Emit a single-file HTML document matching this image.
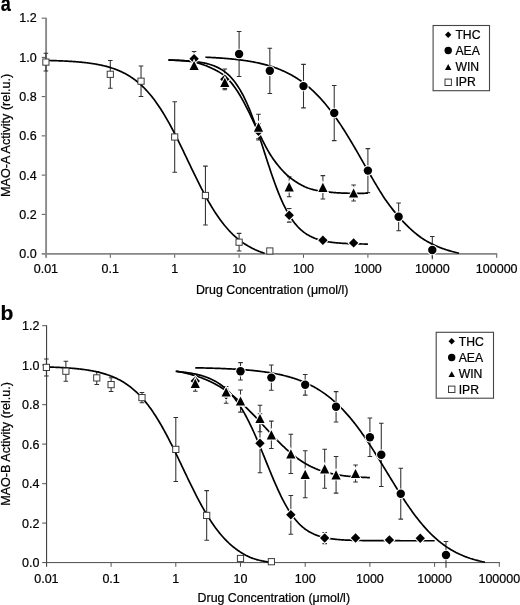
<!DOCTYPE html><html><head><meta charset="utf-8"><title>MAO activity</title>
<style>html,body{margin:0;padding:0;background:#fff}svg{display:block}text{font-family:"Liberation Sans",Arial,sans-serif;fill:#000;stroke:#000;stroke-width:0.22px}</style></head><body>
<svg width="520" height="605" viewBox="0 0 520 605">
<rect width="520" height="605" fill="#fff"/>
<g>
<line x1="41.70" y1="214.36" x2="46.10" y2="214.36" stroke="#444" stroke-width="0.9"/>
<line x1="41.70" y1="175.12" x2="46.10" y2="175.12" stroke="#444" stroke-width="0.9"/>
<line x1="41.70" y1="135.88" x2="46.10" y2="135.88" stroke="#444" stroke-width="0.9"/>
<line x1="41.70" y1="96.64" x2="46.10" y2="96.64" stroke="#444" stroke-width="0.9"/>
<line x1="41.70" y1="57.40" x2="46.10" y2="57.40" stroke="#444" stroke-width="0.9"/>
<line x1="41.70" y1="18.16" x2="46.10" y2="18.16" stroke="#444" stroke-width="0.9"/>
<line x1="110.30" y1="253.85" x2="110.30" y2="257.80" stroke="#444" stroke-width="0.9"/>
<line x1="174.70" y1="253.85" x2="174.70" y2="257.80" stroke="#444" stroke-width="0.9"/>
<line x1="239.10" y1="253.85" x2="239.10" y2="257.80" stroke="#444" stroke-width="0.9"/>
<line x1="303.50" y1="253.85" x2="303.50" y2="257.80" stroke="#444" stroke-width="0.9"/>
<line x1="367.90" y1="253.85" x2="367.90" y2="257.80" stroke="#444" stroke-width="0.9"/>
<line x1="432.30" y1="253.85" x2="432.30" y2="257.80" stroke="#444" stroke-width="0.9"/>
<line x1="496.70" y1="253.85" x2="496.70" y2="257.80" stroke="#444" stroke-width="0.9"/>
<line x1="46.10" y1="17.86" x2="46.10" y2="257.80" stroke="#8a8a8a" stroke-width="1.9"/>
<line x1="41.70" y1="253.85" x2="497.20" y2="253.85" stroke="#868686" stroke-width="1.7"/>
<text x="36.70" y="258.05" font-size="12.5" text-anchor="end">0.0</text>
<text x="36.70" y="218.81" font-size="12.5" text-anchor="end">0.2</text>
<text x="36.70" y="179.57" font-size="12.5" text-anchor="end">0.4</text>
<text x="36.70" y="140.33" font-size="12.5" text-anchor="end">0.6</text>
<text x="36.70" y="101.09" font-size="12.5" text-anchor="end">0.8</text>
<text x="36.70" y="61.85" font-size="12.5" text-anchor="end">1.0</text>
<text x="36.70" y="21.91" font-size="12.5" text-anchor="end">1.2</text>
<text x="45.90" y="273.10" font-size="12.5" text-anchor="middle">0.01</text>
<text x="110.30" y="273.10" font-size="12.5" text-anchor="middle">0.1</text>
<text x="174.70" y="273.10" font-size="12.5" text-anchor="middle">1</text>
<text x="239.10" y="273.10" font-size="12.5" text-anchor="middle">10</text>
<text x="303.50" y="273.10" font-size="12.5" text-anchor="middle">100</text>
<text x="367.90" y="273.10" font-size="12.5" text-anchor="middle">1000</text>
<text x="432.30" y="273.10" font-size="12.5" text-anchor="middle">10000</text>
<text x="496.70" y="273.10" font-size="12.5" text-anchor="middle">100000</text>
<text x="272.15" y="294.10" font-size="12.4" text-anchor="middle">Drug Concentration (μmol/l)</text>
<text transform="translate(9.90,135.30) rotate(-90)" font-size="12.6" text-anchor="middle">MAO-A Activity (rel.u.)</text>
<text transform="translate(0.7,11.0) scale(0.82,1)" font-size="22" font-weight="bold">a</text>
<path d="M194.09,51.50V65.90M191.79,51.50h4.6M191.79,65.90h4.6" stroke="#303030" stroke-width="1.05" fill="none"/>
<path d="M224.81,68.90V89.70M222.51,68.90h4.6M222.51,89.70h4.6" stroke="#303030" stroke-width="1.05" fill="none"/>
<path d="M258.49,123.70V138.70M256.19,123.70h4.6M256.19,138.70h4.6" stroke="#303030" stroke-width="1.05" fill="none"/>
<path d="M289.21,208.50V222.10M286.91,208.50h4.6M286.91,222.10h4.6" stroke="#303030" stroke-width="1.05" fill="none"/>
<path d="M239.10,31.50V76.50M236.80,31.50h4.6M236.80,76.50h4.6" stroke="#303030" stroke-width="1.05" fill="none"/>
<path d="M269.83,48.20V93.40M267.53,48.20h4.6M267.53,93.40h4.6" stroke="#303030" stroke-width="1.05" fill="none"/>
<path d="M303.50,64.35V107.85M301.20,64.35h4.6M301.20,107.85h4.6" stroke="#303030" stroke-width="1.05" fill="none"/>
<path d="M334.23,85.40V140.60M331.93,85.40h4.6M331.93,140.60h4.6" stroke="#303030" stroke-width="1.05" fill="none"/>
<path d="M367.90,148.60V192.60M365.60,148.60h4.6M365.60,192.60h4.6" stroke="#303030" stroke-width="1.05" fill="none"/>
<path d="M398.63,202.90V230.70M396.33,202.90h4.6M396.33,230.70h4.6" stroke="#303030" stroke-width="1.05" fill="none"/>
<path d="M432.30,236.40V259.30M430.00,236.40h4.6" stroke="#303030" stroke-width="1.05" fill="none"/>
<path d="M194.09,60.50V70.50M191.79,60.50h4.6M191.79,70.50h4.6" stroke="#303030" stroke-width="1.05" fill="none"/>
<path d="M224.81,76.40V88.40M222.51,76.40h4.6M222.51,88.40h4.6" stroke="#303030" stroke-width="1.05" fill="none"/>
<path d="M258.49,114.30V139.90M256.19,114.30h4.6M256.19,139.90h4.6" stroke="#303030" stroke-width="1.05" fill="none"/>
<path d="M289.21,176.80V196.80M286.91,176.80h4.6M286.91,196.80h4.6" stroke="#303030" stroke-width="1.05" fill="none"/>
<path d="M322.89,175.60V199.00M320.59,175.60h4.6M320.59,199.00h4.6" stroke="#303030" stroke-width="1.05" fill="none"/>
<path d="M353.61,185.00V201.00M351.31,185.00h4.6M351.31,201.00h4.6" stroke="#303030" stroke-width="1.05" fill="none"/>
<path d="M45.90,53.30V70.90M43.60,53.30h4.6M43.60,70.90h4.6" stroke="#303030" stroke-width="1.05" fill="none"/>
<path d="M110.30,60.40V88.20M108.00,60.40h4.6M108.00,88.20h4.6" stroke="#303030" stroke-width="1.05" fill="none"/>
<path d="M141.03,66.00V96.40M138.73,66.00h4.6M138.73,96.40h4.6" stroke="#303030" stroke-width="1.05" fill="none"/>
<path d="M174.70,101.80V172.20M172.40,101.80h4.6M172.40,172.20h4.6" stroke="#303030" stroke-width="1.05" fill="none"/>
<path d="M205.43,166.10V224.90M203.13,166.10h4.6M203.13,224.90h4.6" stroke="#303030" stroke-width="1.05" fill="none"/>
<path d="M239.10,233.35V251.05M236.80,233.35h4.6M236.80,251.05h4.6" stroke="#303030" stroke-width="1.05" fill="none"/>
<path d="M168.46,60.14 L169.23,60.15 L170.00,60.17 L170.77,60.19 L171.54,60.21 L172.31,60.22 L173.08,60.24 L173.85,60.26 L174.62,60.29 L175.39,60.31 L176.16,60.33 L176.93,60.36 L177.70,60.39 L178.47,60.41 L179.24,60.44 L180.01,60.48 L180.78,60.51 L181.55,60.54 L182.32,60.58 L183.09,60.62 L183.86,60.66 L184.63,60.70 L185.40,60.75 L186.17,60.80 L186.94,60.85 L187.71,60.90 L188.48,60.95 L189.25,61.01 L190.02,61.07 L190.79,61.14 L191.56,61.21 L192.33,61.28 L193.10,61.35 L193.87,61.43 L194.64,61.52 L195.41,61.60 L196.18,61.70 L196.95,61.79 L197.72,61.89 L198.49,62.00 L199.26,62.12 L200.03,62.23 L200.80,62.36 L201.57,62.49 L202.34,62.63 L203.11,62.77 L203.88,62.93 L204.65,63.09 L205.42,63.26 L206.19,63.44 L206.96,63.62 L207.73,63.82 L208.50,64.03 L209.27,64.24 L210.04,64.47 L210.81,64.71 L211.58,64.96 L212.35,65.23 L213.12,65.50 L213.89,65.80 L214.66,66.10 L215.43,66.42 L216.20,66.76 L216.97,67.11 L217.74,67.48 L218.51,67.87 L219.28,68.28 L220.05,68.71 L220.82,69.15 L221.59,69.62 L222.36,70.12 L223.13,70.63 L223.90,71.17 L224.67,71.73 L225.44,72.32 L226.21,72.94 L226.98,73.59 L227.75,74.26 L228.52,74.96 L229.29,75.70 L230.06,76.47 L230.83,77.27 L231.60,78.11 L232.37,78.98 L233.14,79.89 L233.91,80.83 L234.68,81.82 L235.45,82.84 L236.22,83.90 L236.99,85.01 L237.76,86.16 L238.53,87.35 L239.30,88.59 L240.07,89.87 L240.84,91.20 L241.61,92.57 L242.38,93.99 L243.15,95.46 L243.92,96.97 L244.69,98.54 L245.46,100.15 L246.23,101.80 L247.00,103.51 L247.77,105.26 L248.54,107.06 L249.31,108.91 L250.08,110.80 L250.85,112.73 L251.62,114.71 L252.39,116.73 L253.16,118.80 L253.93,120.90 L254.70,123.03 L255.47,125.21 L256.24,127.41 L257.01,129.65 L257.78,131.91 L258.55,134.20 L259.32,136.52 L260.09,138.85 L260.86,141.20 L261.63,143.57 L262.40,145.95 L263.17,148.33 L263.94,150.72 L264.71,153.12 L265.48,155.51 L266.25,157.89 L267.02,160.27 L267.79,162.64 L268.56,164.99 L269.33,167.33 L270.10,169.64 L270.87,171.94 L271.64,174.20 L272.41,176.44 L273.18,178.65 L273.95,180.83 L274.72,182.97 L275.49,185.08 L276.26,187.14 L277.03,189.17 L277.81,191.15 L278.58,193.09 L279.35,194.99 L280.12,196.84 L280.89,198.64 L281.66,200.40 L282.43,202.11 L283.20,203.77 L283.97,205.39 L284.74,206.96 L285.51,208.48 L286.28,209.95 L287.05,211.37 L287.82,212.75 L288.59,214.08 L289.36,215.37 L290.13,216.61 L290.90,217.81 L291.67,218.96 L292.44,220.07 L293.21,221.14 L293.98,222.17 L294.75,223.16 L295.52,224.11 L296.29,225.02 L297.06,225.90 L297.83,226.74 L298.60,227.54 L299.37,228.31 L300.14,229.05 L300.91,229.76 L301.68,230.44 L302.45,231.09 L303.22,231.71 L303.99,232.30 L304.76,232.87 L305.53,233.41 L306.30,233.92 L307.07,234.42 L307.84,234.89 L308.61,235.34 L309.38,235.77 L310.15,236.18 L310.92,236.57 L311.69,236.94 L312.46,237.30 L313.23,237.64 L314.00,237.96 L314.77,238.27 L315.54,238.56 L316.31,238.84 L317.08,239.10 L317.85,239.36 L318.62,239.60 L319.39,239.83 L320.16,240.05 L320.93,240.25 L321.70,240.45 L322.47,240.64 L323.24,240.82 L324.01,240.99 L324.78,241.15 L325.55,241.30 L326.32,241.45 L327.09,241.59 L327.86,241.72 L328.63,241.85 L329.40,241.97 L330.17,242.08 L330.94,242.19 L331.71,242.29 L332.48,242.39 L333.25,242.48 L334.02,242.57 L334.79,242.65 L335.56,242.73 L336.33,242.81 L337.10,242.88 L337.87,242.95 L338.64,243.01 L339.41,243.08 L340.18,243.13 L340.95,243.19 L341.72,243.24 L342.49,243.29 L343.26,243.34 L344.03,243.39 L344.80,243.43 L345.57,243.47 L346.34,243.51 L347.11,243.55 L347.88,243.58 L348.65,243.61 L349.42,243.65 L350.19,243.68 L350.96,243.70 L351.73,243.73 L352.50,243.76 L353.27,243.78 L354.04,243.80 L354.81,243.83 L355.58,243.85 L356.35,243.87 L357.12,243.89 L357.89,243.90 L358.66,243.92 L359.43,243.94 L360.20,243.95 L360.97,243.97 L361.74,243.98 L362.51,243.99 L363.28,244.01 L364.05,244.02 L364.82,244.03 L365.59,244.04 L366.36,244.05 L367.13,244.06 L367.90,244.07" fill="none" stroke="#000" stroke-width="1.7" stroke-linejoin="round"/>
<path d="M205.43,57.21 L206.42,57.26 L207.42,57.30 L208.41,57.35 L209.40,57.40 L210.40,57.45 L211.39,57.50 L212.39,57.55 L213.38,57.61 L214.38,57.66 L215.37,57.72 L216.37,57.78 L217.36,57.85 L218.36,57.91 L219.35,57.97 L220.35,58.04 L221.34,58.11 L222.33,58.18 L223.33,58.26 L224.32,58.34 L225.32,58.41 L226.31,58.50 L227.31,58.58 L228.30,58.67 L229.30,58.76 L230.29,58.85 L231.29,58.94 L232.28,59.04 L233.28,59.14 L234.27,59.25 L235.26,59.35 L236.26,59.46 L237.25,59.58 L238.25,59.69 L239.24,59.82 L240.24,59.94 L241.23,60.07 L242.23,60.20 L243.22,60.34 L244.22,60.48 L245.21,60.62 L246.20,60.77 L247.20,60.93 L248.19,61.08 L249.19,61.25 L250.18,61.41 L251.18,61.59 L252.17,61.77 L253.17,61.95 L254.16,62.14 L255.16,62.33 L256.15,62.53 L257.15,62.74 L258.14,62.95 L259.13,63.17 L260.13,63.40 L261.12,63.63 L262.12,63.87 L263.11,64.12 L264.11,64.37 L265.10,64.63 L266.10,64.90 L267.09,65.18 L268.09,65.46 L269.08,65.75 L270.08,66.06 L271.07,66.36 L272.06,66.68 L273.06,67.01 L274.05,67.35 L275.05,67.70 L276.04,68.05 L277.04,68.42 L278.03,68.80 L279.03,69.19 L280.02,69.58 L281.02,70.00 L282.01,70.42 L283.00,70.85 L284.00,71.29 L284.99,71.75 L285.99,72.22 L286.98,72.70 L287.98,73.20 L288.97,73.71 L289.97,74.23 L290.96,74.77 L291.96,75.32 L292.95,75.89 L293.95,76.47 L294.94,77.06 L295.93,77.67 L296.93,78.30 L297.92,78.94 L298.92,79.60 L299.91,80.27 L300.91,80.97 L301.90,81.68 L302.90,82.40 L303.89,83.15 L304.89,83.91 L305.88,84.69 L306.88,85.49 L307.87,86.31 L308.86,87.15 L309.86,88.00 L310.85,88.88 L311.85,89.78 L312.84,90.69 L313.84,91.63 L314.83,92.58 L315.83,93.56 L316.82,94.56 L317.82,95.58 L318.81,96.62 L319.80,97.68 L320.80,98.76 L321.79,99.87 L322.79,100.99 L323.78,102.14 L324.78,103.31 L325.77,104.50 L326.77,105.71 L327.76,106.94 L328.76,108.20 L329.75,109.48 L330.75,110.77 L331.74,112.09 L332.73,113.43 L333.73,114.79 L334.72,116.17 L335.72,117.58 L336.71,119.00 L337.71,120.44 L338.70,121.90 L339.70,123.38 L340.69,124.88 L341.69,126.40 L342.68,127.93 L343.68,129.48 L344.67,131.05 L345.66,132.64 L346.66,134.24 L347.65,135.85 L348.65,137.48 L349.64,139.12 L350.64,140.78 L351.63,142.44 L352.63,144.12 L353.62,145.81 L354.62,147.51 L355.61,149.22 L356.60,150.94 L357.60,152.66 L358.59,154.39 L359.59,156.12 L360.58,157.86 L361.58,159.60 L362.57,161.34 L363.57,163.09 L364.56,164.83 L365.56,166.57 L366.55,168.32 L367.55,170.06 L368.54,171.79 L369.53,173.52 L370.53,175.25 L371.52,176.96 L372.52,178.67 L373.51,180.37 L374.51,182.07 L375.50,183.75 L376.50,185.41 L377.49,187.07 L378.49,188.71 L379.48,190.34 L380.48,191.95 L381.47,193.55 L382.46,195.13 L383.46,196.69 L384.45,198.24 L385.45,199.71 L386.44,201.11 L387.44,202.49 L388.43,203.86 L389.43,205.20 L390.42,206.52 L391.42,207.83 L392.41,209.11 L393.40,210.37 L394.40,211.60 L395.39,212.81 L396.39,213.99 L397.38,215.16 L398.38,216.31 L399.37,217.45 L400.37,218.58 L401.36,219.70 L402.36,220.78 L403.35,221.85 L404.35,222.90 L405.34,223.92 L406.33,224.92 L407.33,225.91 L408.32,226.87 L409.32,227.82 L410.31,228.75 L411.31,229.67 L412.30,230.57 L413.30,231.45 L414.29,232.31 L415.29,233.15 L416.28,233.96 L417.28,234.76 L418.27,235.53 L419.26,236.28 L420.26,237.01 L421.25,237.71 L422.25,238.38 L423.24,239.04 L424.24,239.68 L425.23,240.30 L426.23,240.89 L427.22,241.47 L428.22,242.04 L429.21,242.58 L430.20,243.11 L431.20,243.62 L432.19,244.12 L433.19,244.60 L434.18,245.07 L435.18,245.53 L436.17,245.97 L437.17,246.40 L438.16,246.81 L439.16,247.22 L440.15,247.61 L441.15,247.99 L442.14,248.36 L443.13,248.71 L444.13,249.06 L445.12,249.39 L446.12,249.72 L447.11,250.03 L448.11,250.34 L449.10,250.64 L450.10,250.93 L451.09,251.21 L452.09,251.48 L453.08,251.75 L454.08,252.02 L455.07,252.27 L456.06,252.53 L457.06,252.77 L458.05,253.01 L459.05,253.25" fill="none" stroke="#000" stroke-width="1.7" stroke-linejoin="round"/>
<path d="M168.46,59.95 L169.23,59.97 L170.00,60.00 L170.77,60.03 L171.54,60.06 L172.31,60.09 L173.08,60.12 L173.85,60.15 L174.62,60.19 L175.39,60.23 L176.16,60.27 L176.93,60.31 L177.70,60.35 L178.47,60.40 L179.24,60.44 L180.01,60.49 L180.78,60.55 L181.55,60.60 L182.32,60.66 L183.09,60.72 L183.86,60.79 L184.63,60.85 L185.40,60.92 L186.17,61.00 L186.94,61.07 L187.71,61.16 L188.48,61.24 L189.25,61.33 L190.02,61.43 L190.79,61.52 L191.56,61.63 L192.33,61.74 L193.10,61.85 L193.87,61.97 L194.64,62.15 L195.41,62.36 L196.18,62.57 L196.95,62.78 L197.72,63.00 L198.49,63.22 L199.26,63.45 L200.03,63.68 L200.80,63.92 L201.57,64.17 L202.34,64.42 L203.11,64.68 L203.88,64.95 L204.65,65.22 L205.42,65.52 L206.19,65.82 L206.96,66.13 L207.73,66.46 L208.50,66.79 L209.27,67.13 L210.04,67.48 L210.81,67.83 L211.58,68.18 L212.35,68.54 L213.12,68.90 L213.89,69.26 L214.66,69.63 L215.43,70.00 L216.20,70.39 L216.97,70.79 L217.74,71.21 L218.51,71.64 L219.28,72.11 L220.05,72.60 L220.82,73.11 L221.59,73.63 L222.36,74.17 L223.13,74.74 L223.90,75.33 L224.67,75.95 L225.44,76.60 L226.21,77.29 L226.98,78.02 L227.75,78.79 L228.52,79.60 L229.29,80.45 L230.06,81.32 L230.83,82.22 L231.60,83.16 L232.37,84.12 L233.14,85.12 L233.91,86.15 L234.68,87.21 L235.45,88.30 L236.22,89.43 L236.99,90.59 L237.76,91.78 L238.53,93.00 L239.30,94.25 L240.07,95.53 L240.84,96.84 L241.61,98.18 L242.38,99.55 L243.15,100.95 L243.92,102.37 L244.69,103.82 L245.46,105.29 L246.23,106.79 L247.00,108.30 L247.77,109.84 L248.54,111.40 L249.31,112.97 L250.08,114.56 L250.85,116.16 L251.62,117.78 L252.39,119.40 L253.16,121.04 L253.93,122.68 L254.70,124.32 L255.47,125.97 L256.24,127.61 L257.01,129.22 L257.78,130.78 L258.55,132.31 L259.32,133.84 L260.09,135.36 L260.86,136.91 L261.63,138.47 L262.40,140.02 L263.17,141.56 L263.94,143.09 L264.71,144.60 L265.48,146.08 L266.25,147.54 L267.02,148.96 L267.79,150.35 L268.56,151.69 L269.33,152.98 L270.10,154.24 L270.87,155.46 L271.64,156.65 L272.41,157.82 L273.18,158.95 L273.95,160.05 L274.72,161.11 L275.49,162.13 L276.26,163.13 L277.03,164.10 L277.81,165.05 L278.58,166.00 L279.35,166.95 L280.12,167.87 L280.89,168.76 L281.66,169.62 L282.43,170.46 L283.20,171.28 L283.97,172.08 L284.74,172.85 L285.51,173.61 L286.28,174.34 L287.05,175.06 L287.82,175.75 L288.59,176.41 L289.36,177.06 L290.13,177.68 L290.90,178.28 L291.67,178.87 L292.44,179.44 L293.21,180.00 L293.98,180.54 L294.75,181.07 L295.52,181.59 L296.29,182.08 L297.06,182.56 L297.83,183.03 L298.60,183.48 L299.37,183.92 L300.14,184.36 L300.91,184.79 L301.68,185.20 L302.45,185.61 L303.22,186.00 L303.99,186.37 L304.76,186.73 L305.53,187.06 L306.30,187.37 L307.07,187.67 L307.84,187.96 L308.61,188.23 L309.38,188.50 L310.15,188.75 L310.92,188.99 L311.69,189.22 L312.46,189.43 L313.23,189.64 L314.00,189.83 L314.77,190.01 L315.54,190.18 L316.31,190.33 L317.08,190.49 L317.85,190.63 L318.62,190.77 L319.39,190.90 L320.16,191.02 L320.93,191.14 L321.70,191.25 L322.47,191.36 L323.24,191.46 L324.01,191.56 L324.78,191.65 L325.55,191.74 L326.32,191.83 L327.09,191.91 L327.86,191.99 L328.63,192.07 L329.40,192.15 L330.17,192.22 L330.94,192.29 L331.71,192.36 L332.48,192.43 L333.25,192.49 L334.02,192.56 L334.79,192.62 L335.56,192.67 L336.33,192.73 L337.10,192.78 L337.87,192.83 L338.64,192.88 L339.41,192.93 L340.18,192.97 L340.95,193.01 L341.72,193.04 L342.49,193.08 L343.26,193.11 L344.03,193.14 L344.80,193.16 L345.57,193.18 L346.34,193.20 L347.11,193.22 L347.88,193.24 L348.65,193.25 L349.42,193.27 L350.19,193.28 L350.96,193.29 L351.73,193.30 L352.50,193.31 L353.27,193.32 L354.04,193.32 L354.81,193.33 L355.58,193.33 L356.35,193.33 L357.12,193.33 L357.89,193.33 L358.66,193.33 L359.43,193.33 L360.20,193.32 L360.97,193.32 L361.74,193.31 L362.51,193.30 L363.28,193.29 L364.05,193.28 L364.82,193.27 L365.59,193.26 L366.36,193.24 L367.13,193.23 L367.90,193.21" fill="none" stroke="#000" stroke-width="1.7" stroke-linejoin="round"/>
<path d="M45.90,60.41 L46.76,60.43 L47.63,60.45 L48.49,60.48 L49.36,60.50 L50.22,60.52 L51.09,60.54 L51.95,60.57 L52.82,60.59 L53.68,60.62 L54.55,60.65 L55.41,60.68 L56.27,60.71 L57.14,60.74 L58.00,60.77 L58.87,60.80 L59.73,60.83 L60.60,60.87 L61.46,60.91 L62.33,60.94 L63.19,60.98 L64.06,61.02 L64.92,61.06 L65.79,61.11 L66.65,61.15 L67.51,61.20 L68.38,61.25 L69.24,61.30 L70.11,61.35 L70.97,61.40 L71.84,61.46 L72.70,61.52 L73.57,61.58 L74.43,61.64 L75.30,61.70 L76.16,61.77 L77.02,61.84 L77.89,61.91 L78.75,61.99 L79.62,62.06 L80.48,62.14 L81.35,62.22 L82.21,62.31 L83.08,62.40 L83.94,62.49 L84.81,62.58 L85.67,62.68 L86.54,62.78 L87.40,62.89 L88.26,63.00 L89.13,63.11 L89.99,63.23 L90.86,63.35 L91.72,63.47 L92.59,63.60 L93.45,63.74 L94.32,63.88 L95.18,64.02 L96.05,64.17 L96.91,64.32 L97.77,64.48 L98.64,64.65 L99.50,64.82 L100.37,65.00 L101.23,65.18 L102.10,65.37 L102.96,65.57 L103.83,65.77 L104.69,65.98 L105.56,66.19 L106.42,66.42 L107.29,66.65 L108.15,66.89 L109.01,67.14 L109.88,67.40 L110.74,67.66 L111.61,67.94 L112.47,68.22 L113.34,68.51 L114.20,68.82 L115.07,69.13 L115.93,69.45 L116.80,69.79 L117.66,70.13 L118.52,70.49 L119.39,70.86 L120.25,71.24 L121.12,71.63 L121.98,72.04 L122.85,72.46 L123.71,72.89 L124.58,73.33 L125.44,73.79 L126.31,74.27 L127.17,74.76 L128.04,75.26 L128.90,75.78 L129.76,76.32 L130.63,76.87 L131.49,77.44 L132.36,78.03 L133.22,78.63 L134.09,79.25 L134.95,79.89 L135.82,80.55 L136.68,81.23 L137.55,81.93 L138.41,82.65 L139.27,83.39 L140.14,84.14 L141.00,84.92 L141.87,85.73 L142.73,86.55 L143.60,87.39 L144.46,88.26 L145.33,89.15 L146.19,90.06 L147.06,91.00 L147.92,91.96 L148.79,92.95 L149.65,93.95 L150.51,94.99 L151.38,96.04 L152.24,97.13 L153.11,98.23 L153.97,99.36 L154.84,100.52 L155.70,101.70 L156.57,102.91 L157.43,104.14 L158.30,105.40 L159.16,106.68 L160.02,107.99 L160.89,109.32 L161.75,110.68 L162.62,112.06 L163.48,113.46 L164.35,114.89 L165.21,116.35 L166.08,117.82 L166.94,119.32 L167.81,120.84 L168.67,122.38 L169.54,123.95 L170.40,125.53 L171.26,127.14 L172.13,128.76 L172.99,130.40 L173.86,132.06 L174.72,133.74 L175.59,135.43 L176.45,137.14 L177.32,138.86 L178.18,140.60 L179.05,142.35 L179.91,144.11 L180.77,145.88 L181.64,147.66 L182.50,149.44 L183.37,151.24 L184.23,153.04 L185.10,154.85 L185.96,156.66 L186.83,158.47 L187.69,160.28 L188.56,162.09 L189.42,163.91 L190.29,165.72 L191.15,167.52 L192.01,169.32 L192.88,171.12 L193.74,172.91 L194.61,174.69 L195.47,176.46 L196.34,178.23 L197.20,179.98 L198.07,181.72 L198.93,183.44 L199.80,185.16 L200.66,186.85 L201.52,188.53 L202.39,190.20 L203.25,191.84 L204.12,193.47 L204.98,195.08 L205.85,196.67 L206.71,198.24 L207.58,199.79 L208.44,201.31 L209.31,202.82 L210.17,204.30 L211.04,205.76 L211.90,207.19 L212.76,208.60 L213.63,209.99 L214.49,211.35 L215.36,212.69 L216.22,214.00 L217.09,215.29 L217.95,216.55 L218.82,217.79 L219.68,219.00 L220.55,220.19 L221.41,221.35 L222.27,222.49 L223.14,223.60 L224.00,224.69 L224.87,225.75 L225.73,226.79 L226.60,227.81 L227.46,228.80 L228.33,229.76 L229.19,230.70 L230.06,231.62 L230.92,232.52 L231.79,233.39 L232.65,234.24 L233.51,235.07 L234.38,235.88 L235.24,236.66 L236.11,237.43 L236.97,238.17 L237.84,238.89 L238.70,239.59 L239.57,240.28 L240.43,240.94 L241.30,241.59 L242.16,242.21 L243.02,242.82 L243.89,243.41 L244.75,243.98 L245.62,244.54 L246.48,245.08 L247.35,245.60 L248.21,246.11 L249.08,246.61 L249.94,247.08 L250.81,247.55 L251.67,248.00 L252.53,248.43 L253.40,248.85 L254.26,249.26 L255.13,249.66 L255.99,250.04 L256.86,250.41 L257.72,250.77 L258.59,251.12 L259.45,251.46 L260.32,251.78 L261.18,252.10 L262.05,252.40 L262.91,252.70 L263.77,252.98 L264.64,253.26" fill="none" stroke="#000" stroke-width="1.7" stroke-linejoin="round"/>
<path d="M194.09,54.00l4.70,4.70l-4.70,4.70l-4.70,-4.70z" fill="#000" stroke="#fff" stroke-width="2.1" paint-order="stroke" stroke-linejoin="miter"/>
<path d="M224.81,74.60l4.70,4.70l-4.70,4.70l-4.70,-4.70z" fill="#000" stroke="#fff" stroke-width="2.1" paint-order="stroke" stroke-linejoin="miter"/>
<path d="M258.49,126.50l4.70,4.70l-4.70,4.70l-4.70,-4.70z" fill="#000" stroke="#fff" stroke-width="2.1" paint-order="stroke" stroke-linejoin="miter"/>
<path d="M289.21,210.60l4.70,4.70l-4.70,4.70l-4.70,-4.70z" fill="#000" stroke="#fff" stroke-width="2.1" paint-order="stroke" stroke-linejoin="miter"/>
<path d="M322.89,235.50l4.70,4.70l-4.70,4.70l-4.70,-4.70z" fill="#000" stroke="#fff" stroke-width="2.1" paint-order="stroke" stroke-linejoin="miter"/>
<path d="M353.61,238.20l4.70,4.70l-4.70,4.70l-4.70,-4.70z" fill="#000" stroke="#fff" stroke-width="2.1" paint-order="stroke" stroke-linejoin="miter"/>
<circle cx="239.10" cy="54.00" r="4.20" fill="#000" stroke="#fff" stroke-width="2.1" paint-order="stroke" stroke-linejoin="miter"/>
<circle cx="269.83" cy="70.80" r="4.20" fill="#000" stroke="#fff" stroke-width="2.1" paint-order="stroke" stroke-linejoin="miter"/>
<circle cx="303.50" cy="86.10" r="4.20" fill="#000" stroke="#fff" stroke-width="2.1" paint-order="stroke" stroke-linejoin="miter"/>
<circle cx="334.23" cy="113.00" r="4.20" fill="#000" stroke="#fff" stroke-width="2.1" paint-order="stroke" stroke-linejoin="miter"/>
<circle cx="367.90" cy="170.60" r="4.20" fill="#000" stroke="#fff" stroke-width="2.1" paint-order="stroke" stroke-linejoin="miter"/>
<circle cx="398.63" cy="216.80" r="4.20" fill="#000" stroke="#fff" stroke-width="2.1" paint-order="stroke" stroke-linejoin="miter"/>
<circle cx="432.30" cy="250.00" r="4.20" fill="#000" stroke="#fff" stroke-width="2.1" paint-order="stroke" stroke-linejoin="miter"/>
<path d="M194.09,60.90l4.60,9.20h-9.20z" fill="#000" stroke="#fff" stroke-width="2.1" paint-order="stroke" stroke-linejoin="miter"/>
<path d="M224.81,77.80l4.60,9.20h-9.20z" fill="#000" stroke="#fff" stroke-width="2.1" paint-order="stroke" stroke-linejoin="miter"/>
<path d="M258.49,122.50l4.60,9.20h-9.20z" fill="#000" stroke="#fff" stroke-width="2.1" paint-order="stroke" stroke-linejoin="miter"/>
<path d="M289.21,182.20l4.60,9.20h-9.20z" fill="#000" stroke="#fff" stroke-width="2.1" paint-order="stroke" stroke-linejoin="miter"/>
<path d="M322.89,182.70l4.60,9.20h-9.20z" fill="#000" stroke="#fff" stroke-width="2.1" paint-order="stroke" stroke-linejoin="miter"/>
<path d="M353.61,188.40l4.60,9.20h-9.20z" fill="#000" stroke="#fff" stroke-width="2.1" paint-order="stroke" stroke-linejoin="miter"/>
<rect x="42.80" y="59.00" width="6.2" height="6.2" fill="#fff" stroke="#3c3c3c" stroke-width="1"/>
<rect x="107.20" y="71.20" width="6.2" height="6.2" fill="#fff" stroke="#3c3c3c" stroke-width="1"/>
<rect x="137.93" y="78.10" width="6.2" height="6.2" fill="#fff" stroke="#3c3c3c" stroke-width="1"/>
<rect x="171.60" y="133.90" width="6.2" height="6.2" fill="#fff" stroke="#3c3c3c" stroke-width="1"/>
<rect x="202.33" y="192.40" width="6.2" height="6.2" fill="#fff" stroke="#3c3c3c" stroke-width="1"/>
<rect x="236.00" y="239.10" width="6.2" height="6.2" fill="#fff" stroke="#3c3c3c" stroke-width="1"/>
<rect x="266.73" y="247.90" width="6.2" height="6.2" fill="#fff" stroke="#3c3c3c" stroke-width="1"/>
<rect x="433.1" y="25.5" width="56.4" height="65.2" fill="#fff" stroke="#444" stroke-width="1.1"/>
<path d="M448.2,31.500000000000004l3.2,3.2l-3.2,3.2l-3.2,-3.2z" fill="#000"/>
<text x="455.4" y="38.8" font-size="12.2">THC</text>
<circle cx="448.2" cy="50.5" r="3.7" fill="#000"/>
<text x="455.4" y="54.9" font-size="12.2">AEA</text>
<path d="M448.2,64.1l3.2,5.800000000000001h-6.4z" fill="#000"/>
<text x="455.4" y="70.6" font-size="12.2">WIN</text>
<rect x="445.0" y="79.1" width="6.4" height="6.4" fill="#fff" stroke="#3c3c3c" stroke-width="1"/>
<text x="455.4" y="86.3" font-size="12.2">IPR</text>
</g>
<g>
<line x1="42.20" y1="523.10" x2="46.55" y2="523.10" stroke="#777" stroke-width="1.3"/>
<line x1="42.20" y1="483.60" x2="46.55" y2="483.60" stroke="#777" stroke-width="1.3"/>
<line x1="42.20" y1="444.10" x2="46.55" y2="444.10" stroke="#777" stroke-width="1.3"/>
<line x1="42.20" y1="404.60" x2="46.55" y2="404.60" stroke="#777" stroke-width="1.3"/>
<line x1="42.20" y1="365.10" x2="46.55" y2="365.10" stroke="#777" stroke-width="1.3"/>
<line x1="42.20" y1="325.60" x2="46.55" y2="325.60" stroke="#777" stroke-width="1.3"/>
<line x1="111.10" y1="562.60" x2="111.10" y2="566.80" stroke="#555" stroke-width="1.0"/>
<line x1="175.80" y1="562.60" x2="175.80" y2="566.80" stroke="#555" stroke-width="1.0"/>
<line x1="240.50" y1="562.60" x2="240.50" y2="566.80" stroke="#555" stroke-width="1.0"/>
<line x1="305.20" y1="562.60" x2="305.20" y2="566.80" stroke="#555" stroke-width="1.0"/>
<line x1="369.90" y1="562.60" x2="369.90" y2="566.80" stroke="#555" stroke-width="1.0"/>
<line x1="434.60" y1="562.60" x2="434.60" y2="566.80" stroke="#555" stroke-width="1.0"/>
<line x1="499.30" y1="562.60" x2="499.30" y2="566.80" stroke="#555" stroke-width="1.0"/>
<line x1="46.55" y1="325.30" x2="46.55" y2="566.80" stroke="#444" stroke-width="1.15"/>
<line x1="42.20" y1="562.60" x2="499.80" y2="562.60" stroke="#4a4a4a" stroke-width="1.0"/>
<text x="39.50" y="567.05" font-size="12.5" text-anchor="end">0.0</text>
<text x="39.50" y="527.55" font-size="12.5" text-anchor="end">0.2</text>
<text x="39.50" y="488.05" font-size="12.5" text-anchor="end">0.4</text>
<text x="39.50" y="448.55" font-size="12.5" text-anchor="end">0.6</text>
<text x="39.50" y="409.05" font-size="12.5" text-anchor="end">0.8</text>
<text x="39.50" y="369.55" font-size="12.5" text-anchor="end">1.0</text>
<text x="39.50" y="330.05" font-size="12.5" text-anchor="end">1.2</text>
<text x="46.40" y="583.20" font-size="12.5" text-anchor="middle">0.01</text>
<text x="111.10" y="583.20" font-size="12.5" text-anchor="middle">0.1</text>
<text x="175.80" y="583.20" font-size="12.5" text-anchor="middle">1</text>
<text x="240.50" y="583.20" font-size="12.5" text-anchor="middle">10</text>
<text x="305.20" y="583.20" font-size="12.5" text-anchor="middle">100</text>
<text x="369.90" y="583.20" font-size="12.5" text-anchor="middle">1000</text>
<text x="434.60" y="583.20" font-size="12.5" text-anchor="middle">10000</text>
<text x="499.30" y="583.20" font-size="12.5" text-anchor="middle">100000</text>
<text x="273.80" y="601.50" font-size="12.4" text-anchor="middle">Drug Concentration (μmol/l)</text>
<text transform="translate(9.90,443.90) rotate(-90)" font-size="12.6" text-anchor="middle">MAO-B Activity (rel.u.)</text>
<text transform="translate(0.5,319.9) scale(1,1)" font-size="21" font-weight="bold">b</text>
<path d="M195.28,378.00V384.00M192.98,378.00h4.6M192.98,384.00h4.6" stroke="#303030" stroke-width="1.05" fill="none"/>
<path d="M226.15,386.40V403.20M223.85,386.40h4.6M223.85,403.20h4.6" stroke="#303030" stroke-width="1.05" fill="none"/>
<path d="M259.98,413.80V472.80M257.68,413.80h4.6M257.68,472.80h4.6" stroke="#303030" stroke-width="1.05" fill="none"/>
<path d="M290.85,495.40V534.20M288.55,495.40h4.6M288.55,534.20h4.6" stroke="#303030" stroke-width="1.05" fill="none"/>
<path d="M324.68,532.40V543.60M322.38,532.40h4.6M322.38,543.60h4.6" stroke="#303030" stroke-width="1.05" fill="none"/>
<path d="M240.50,362.60V380.00M238.20,362.60h4.6M238.20,380.00h4.6" stroke="#303030" stroke-width="1.05" fill="none"/>
<path d="M271.37,364.90V390.30M269.07,364.90h4.6M269.07,390.30h4.6" stroke="#303030" stroke-width="1.05" fill="none"/>
<path d="M305.20,374.50V395.10M302.90,374.50h4.6M302.90,395.10h4.6" stroke="#303030" stroke-width="1.05" fill="none"/>
<path d="M336.07,391.60V422.00M333.77,391.60h4.6M333.77,422.00h4.6" stroke="#303030" stroke-width="1.05" fill="none"/>
<path d="M369.90,417.90V456.50M367.60,417.90h4.6M367.60,456.50h4.6" stroke="#303030" stroke-width="1.05" fill="none"/>
<path d="M381.29,423.20V486.40M378.99,423.20h4.6M378.99,486.40h4.6" stroke="#303030" stroke-width="1.05" fill="none"/>
<path d="M400.77,468.30V519.10M398.47,468.30h4.6M398.47,519.10h4.6" stroke="#303030" stroke-width="1.05" fill="none"/>
<path d="M445.99,541.50V567.70M443.69,541.50h4.6" stroke="#303030" stroke-width="1.05" fill="none"/>
<path d="M195.28,375.50V391.30M192.98,375.50h4.6M192.98,391.30h4.6" stroke="#303030" stroke-width="1.05" fill="none"/>
<path d="M226.15,389.00V395.00M223.85,389.00h4.6M223.85,395.00h4.6" stroke="#303030" stroke-width="1.05" fill="none"/>
<path d="M240.50,389.90V412.10M238.20,389.90h4.6M238.20,412.10h4.6" stroke="#303030" stroke-width="1.05" fill="none"/>
<path d="M259.98,405.20V431.80M257.68,405.20h4.6M257.68,431.80h4.6" stroke="#303030" stroke-width="1.05" fill="none"/>
<path d="M271.37,421.10V448.50M269.07,421.10h4.6M269.07,448.50h4.6" stroke="#303030" stroke-width="1.05" fill="none"/>
<path d="M290.85,434.20V473.40M288.55,434.20h4.6M288.55,473.40h4.6" stroke="#303030" stroke-width="1.05" fill="none"/>
<path d="M305.20,450.80V497.80M302.90,450.80h4.6M302.90,497.80h4.6" stroke="#303030" stroke-width="1.05" fill="none"/>
<path d="M324.68,449.30V488.30M322.38,449.30h4.6M322.38,488.30h4.6" stroke="#303030" stroke-width="1.05" fill="none"/>
<path d="M336.07,456.50V493.10M333.77,456.50h4.6M333.77,493.10h4.6" stroke="#303030" stroke-width="1.05" fill="none"/>
<path d="M355.55,465.00V482.00M353.25,465.00h4.6M353.25,482.00h4.6" stroke="#303030" stroke-width="1.05" fill="none"/>
<path d="M46.40,358.90V375.90M44.10,358.90h4.6M44.10,375.90h4.6" stroke="#303030" stroke-width="1.05" fill="none"/>
<path d="M65.88,361.20V381.20M63.58,361.20h4.6M63.58,381.20h4.6" stroke="#303030" stroke-width="1.05" fill="none"/>
<path d="M96.75,371.40V384.40M94.45,371.40h4.6M94.45,384.40h4.6" stroke="#303030" stroke-width="1.05" fill="none"/>
<path d="M111.10,377.70V391.50M108.80,377.70h4.6M108.80,391.50h4.6" stroke="#303030" stroke-width="1.05" fill="none"/>
<path d="M141.97,392.50V402.70M139.67,392.50h4.6M139.67,402.70h4.6" stroke="#303030" stroke-width="1.05" fill="none"/>
<path d="M175.80,417.40V481.40M173.50,417.40h4.6M173.50,481.40h4.6" stroke="#303030" stroke-width="1.05" fill="none"/>
<path d="M206.67,490.60V540.20M204.37,490.60h4.6M204.37,540.20h4.6" stroke="#303030" stroke-width="1.05" fill="none"/>
<path d="M175.80,371.43 L176.80,371.51 L177.80,371.59 L178.80,371.68 L179.80,371.77 L180.80,371.87 L181.80,371.98 L182.79,372.08 L183.79,372.20 L184.79,372.32 L185.79,372.45 L186.79,372.58 L187.79,372.72 L188.79,372.87 L189.79,373.02 L190.79,373.19 L191.79,373.36 L192.79,373.54 L193.79,373.73 L194.79,373.93 L195.78,374.15 L196.78,374.37 L197.78,374.60 L198.78,374.85 L199.78,375.11 L200.78,375.38 L201.78,375.66 L202.78,375.96 L203.78,376.28 L204.78,376.61 L205.78,376.96 L206.78,377.32 L207.78,377.70 L208.77,378.11 L209.77,378.53 L210.77,378.97 L211.77,379.44 L212.77,379.92 L213.77,380.43 L214.77,380.97 L215.77,381.53 L216.77,382.12 L217.77,382.73 L218.77,383.38 L219.77,384.05 L220.77,384.76 L221.76,385.50 L222.76,386.27 L223.76,387.07 L224.76,387.92 L225.76,388.79 L226.76,389.71 L227.76,390.67 L228.76,391.66 L229.76,392.70 L230.76,393.78 L231.76,394.91 L232.76,396.08 L233.76,397.29 L234.75,398.56 L235.75,399.87 L236.75,401.23 L237.75,402.64 L238.75,404.09 L239.75,405.60 L240.75,407.16 L241.75,408.78 L242.75,410.44 L243.75,412.15 L244.75,413.92 L245.75,415.74 L246.75,417.61 L247.74,419.52 L248.74,421.49 L249.74,423.51 L250.74,425.57 L251.74,427.68 L252.74,429.83 L253.74,432.02 L254.74,434.25 L255.74,436.52 L256.74,438.83 L257.74,441.16 L258.74,443.53 L259.74,445.92 L260.73,448.33 L261.73,450.77 L262.73,453.22 L263.73,455.68 L264.73,458.15 L265.73,460.62 L266.73,463.09 L267.73,465.56 L268.73,468.02 L269.73,470.47 L270.73,472.90 L271.73,475.31 L272.73,477.70 L273.72,480.06 L274.72,482.39 L275.72,484.69 L276.72,486.95 L277.72,489.16 L278.72,491.34 L279.72,493.46 L280.72,495.54 L281.72,497.57 L282.72,499.54 L283.72,501.46 L284.72,503.33 L285.72,505.13 L286.71,506.88 L287.71,508.57 L288.71,510.21 L289.71,511.78 L290.71,513.29 L291.71,514.75 L292.71,516.15 L293.71,517.48 L294.71,518.77 L295.71,519.99 L296.71,521.17 L297.71,522.28 L298.71,523.35 L299.70,524.36 L300.70,525.33 L301.70,526.24 L302.70,527.11 L303.70,527.94 L304.70,528.72 L305.70,529.46 L306.70,530.15 L307.70,530.82 L308.70,531.44 L309.70,532.03 L310.70,532.58 L311.69,533.10 L312.69,533.59 L313.69,534.06 L314.69,534.49 L315.69,534.90 L316.69,535.28 L317.69,535.64 L318.69,535.98 L319.69,536.30 L320.69,536.59 L321.69,536.87 L322.69,537.13 L323.69,537.38 L324.68,537.60 L325.68,537.82 L326.68,538.02 L327.68,538.20 L328.68,538.37 L329.68,538.54 L330.68,538.69 L331.68,538.83 L332.68,538.96 L333.68,539.08 L334.68,539.20 L335.68,539.31 L336.68,539.41 L337.67,539.50 L338.67,539.59 L339.67,539.67 L340.67,539.74 L341.67,539.81 L342.67,539.88 L343.67,539.94 L344.67,539.99 L345.67,540.05 L346.67,540.09 L347.67,540.14 L348.67,540.18 L349.67,540.22 L350.66,540.26 L351.66,540.29 L352.66,540.32 L353.66,540.35 L354.66,540.38 L355.66,540.41 L356.66,540.43 L357.66,540.45 L358.66,540.47 L359.66,540.49 L360.66,540.51 L361.66,540.52 L362.66,540.54 L363.65,540.55 L364.65,540.57 L365.65,540.58 L366.65,540.59 L367.65,540.60 L368.65,540.61 L369.65,540.62 L370.65,540.63 L371.65,540.64 L372.65,540.64 L373.65,540.65 L374.65,540.66 L375.65,540.66 L376.64,540.67 L377.64,540.67 L378.64,540.68 L379.64,540.68 L380.64,540.68 L381.64,540.69 L382.64,540.69 L383.64,540.70 L384.64,540.70 L385.64,540.70 L386.64,540.70 L387.64,540.71 L388.64,540.71 L389.63,540.71 L390.63,540.71 L391.63,540.71 L392.63,540.72 L393.63,540.72 L394.63,540.72 L395.63,540.72 L396.63,540.72 L397.63,540.72 L398.63,540.72 L399.63,540.72 L400.63,540.73 L401.63,540.73 L402.62,540.73 L403.62,540.73 L404.62,540.73 L405.62,540.73 L406.62,540.73 L407.62,540.73 L408.62,540.73 L409.62,540.73 L410.62,540.73 L411.62,540.73 L412.62,540.73 L413.62,540.73 L414.62,540.73 L415.61,540.73 L416.61,540.73 L417.61,540.73 L418.61,540.73 L419.61,540.73 L420.61,540.73 L421.61,540.73 L422.61,540.73 L423.61,540.73 L424.61,540.73 L425.61,540.73 L426.61,540.74 L427.61,540.74 L428.60,540.74 L429.60,540.74 L430.60,540.74 L431.60,540.74 L432.60,540.74 L433.60,540.74 L434.60,540.74" fill="none" stroke="#000" stroke-width="1.7" stroke-linejoin="round"/>
<path d="M195.28,367.82 L196.40,367.84 L197.51,367.86 L198.63,367.88 L199.75,367.90 L200.87,367.93 L201.99,367.95 L203.11,367.97 L204.22,368.00 L205.34,368.02 L206.46,368.05 L207.58,368.08 L208.70,368.11 L209.82,368.14 L210.93,368.17 L212.05,368.20 L213.17,368.23 L214.29,368.27 L215.41,368.30 L216.53,368.34 L217.64,368.38 L218.76,368.41 L219.88,368.45 L221.00,368.50 L222.12,368.54 L223.24,368.58 L224.36,368.63 L225.47,368.68 L226.59,368.73 L227.71,368.78 L228.83,368.83 L229.95,368.89 L231.07,368.94 L232.18,369.00 L233.30,369.06 L234.42,369.12 L235.54,369.19 L236.66,369.25 L237.78,369.32 L238.89,369.40 L240.01,369.47 L241.13,369.55 L242.25,369.63 L243.37,369.71 L244.49,369.79 L245.61,369.88 L246.72,369.97 L247.84,370.06 L248.96,370.16 L250.08,370.26 L251.20,370.36 L252.32,370.47 L253.43,370.58 L254.55,370.69 L255.67,370.81 L256.79,370.93 L257.91,371.06 L259.03,371.19 L260.14,371.33 L261.26,371.47 L262.38,371.61 L263.50,371.76 L264.62,371.91 L265.74,372.07 L266.86,372.24 L267.97,372.41 L269.09,372.58 L270.21,372.76 L271.33,372.95 L272.45,373.14 L273.57,373.34 L274.68,373.55 L275.80,373.76 L276.92,373.98 L278.04,374.21 L279.16,374.44 L280.28,374.69 L281.39,374.94 L282.51,375.19 L283.63,375.46 L284.75,375.74 L285.87,376.02 L286.99,376.31 L288.11,376.62 L289.22,376.93 L290.34,377.25 L291.46,377.58 L292.58,377.93 L293.70,378.28 L294.82,378.65 L295.93,379.02 L297.05,379.41 L298.17,379.81 L299.29,380.22 L300.41,380.65 L301.53,381.09 L302.64,381.54 L303.76,382.00 L304.88,382.48 L306.00,382.98 L307.12,383.48 L308.24,384.01 L309.36,384.55 L310.47,385.10 L311.59,385.67 L312.71,386.26 L313.83,386.86 L314.95,387.49 L316.07,388.13 L317.18,388.78 L318.30,389.46 L319.42,390.15 L320.54,390.87 L321.66,391.60 L322.78,392.35 L323.89,393.13 L325.01,393.92 L326.13,394.74 L327.25,395.57 L328.37,396.43 L329.49,397.31 L330.60,398.21 L331.72,399.14 L332.84,400.08 L333.96,401.05 L335.08,402.05 L336.20,403.06 L337.32,404.10 L338.43,405.17 L339.55,406.26 L340.67,407.37 L341.79,408.51 L342.91,409.67 L344.03,410.86 L345.14,412.07 L346.26,413.31 L347.38,414.57 L348.50,415.86 L349.62,417.17 L350.74,418.50 L351.85,419.86 L352.97,421.25 L354.09,422.65 L355.21,424.09 L356.33,425.54 L357.45,427.02 L358.57,428.52 L359.68,430.05 L360.80,431.59 L361.92,433.16 L363.04,434.75 L364.16,436.36 L365.28,437.99 L366.39,439.64 L367.51,441.31 L368.63,442.99 L369.75,444.69 L370.87,446.41 L371.99,448.14 L373.10,449.89 L374.22,451.65 L375.34,453.43 L376.46,455.21 L377.58,457.01 L378.70,458.81 L379.82,460.63 L380.93,462.45 L382.05,464.27 L383.17,466.11 L384.29,467.94 L385.41,469.78 L386.53,471.62 L387.64,473.46 L388.76,475.30 L389.88,477.13 L391.00,478.97 L392.12,480.80 L393.24,482.62 L394.35,484.43 L395.47,486.24 L396.59,488.04 L397.71,489.83 L398.83,491.60 L399.95,493.36 L401.07,495.11 L402.18,496.85 L403.30,498.56 L404.42,500.26 L405.54,501.95 L406.66,503.61 L407.78,505.26 L408.89,506.88 L410.01,508.49 L411.13,510.07 L412.25,511.63 L413.37,513.16 L414.49,514.67 L415.60,516.16 L416.72,517.62 L417.84,519.06 L418.96,520.47 L420.08,521.86 L421.20,523.22 L422.32,524.55 L423.43,525.85 L424.55,527.13 L425.67,528.38 L426.79,529.61 L427.91,530.81 L429.03,531.98 L430.14,533.12 L431.26,534.23 L432.38,535.32 L433.50,536.38 L434.62,537.42 L435.74,538.43 L436.85,539.41 L437.97,540.36 L439.09,541.29 L440.21,542.20 L441.33,543.08 L442.45,543.93 L443.56,544.76 L444.68,545.56 L445.80,546.35 L446.92,547.10 L448.04,547.84 L449.16,548.55 L450.28,549.24 L451.39,549.91 L452.51,550.56 L453.63,551.19 L454.75,551.80 L455.87,552.38 L456.99,552.95 L458.10,553.50 L459.22,554.03 L460.34,554.55 L461.46,555.04 L462.58,555.52 L463.70,555.98 L464.81,556.43 L465.93,556.86 L467.05,557.28 L468.17,557.68 L469.29,558.06 L470.41,558.44 L471.53,558.79 L472.64,559.14 L473.76,559.47 L474.88,559.80 L476.00,560.10 L477.12,560.40 L478.24,560.69 L479.35,560.97 L480.47,561.23 L481.59,561.49 L482.71,561.73 L483.83,561.97 L484.95,562.20" fill="none" stroke="#000" stroke-width="1.7" stroke-linejoin="round"/>
<path d="M175.80,371.14 L176.55,371.27 L177.30,371.41 L178.05,371.54 L178.80,371.68 L179.55,371.83 L180.30,371.97 L181.05,372.13 L181.80,372.28 L182.54,372.44 L183.29,372.60 L184.04,372.76 L184.79,372.93 L185.54,373.11 L186.29,373.28 L187.04,373.46 L187.79,373.65 L188.54,373.84 L189.29,374.03 L190.04,374.23 L190.79,374.43 L191.54,374.64 L192.29,374.85 L193.04,375.07 L193.79,375.29 L194.54,375.52 L195.28,375.75 L196.03,375.99 L196.78,376.23 L197.53,376.47 L198.28,376.73 L199.03,376.98 L199.78,377.25 L200.53,377.52 L201.28,377.79 L202.03,378.07 L202.78,378.36 L203.53,378.65 L204.28,378.95 L205.03,379.26 L205.78,379.57 L206.53,379.88 L207.28,380.21 L208.03,380.54 L208.77,380.88 L209.52,381.22 L210.27,381.57 L211.02,381.93 L211.77,382.29 L212.52,382.67 L213.27,383.05 L214.02,383.43 L214.77,383.83 L215.52,384.23 L216.27,384.64 L217.02,385.05 L217.77,385.48 L218.52,385.91 L219.27,386.35 L220.02,386.79 L220.77,387.25 L221.51,387.71 L222.26,388.18 L223.01,388.66 L223.76,389.15 L224.51,389.65 L225.26,390.15 L226.01,390.66 L226.76,391.18 L227.51,391.71 L228.26,392.25 L229.01,392.80 L229.76,393.35 L230.51,393.91 L231.26,394.48 L232.01,395.06 L232.76,395.65 L233.51,396.24 L234.25,396.85 L235.00,397.46 L235.75,398.08 L236.50,398.70 L237.25,399.34 L238.00,399.98 L238.75,400.64 L239.50,401.30 L240.25,401.96 L241.00,402.64 L241.75,403.32 L242.50,404.01 L243.25,404.71 L244.00,405.41 L244.75,406.12 L245.50,406.84 L246.25,407.57 L246.99,408.30 L247.74,409.03 L248.49,409.78 L249.24,410.53 L249.99,411.28 L250.74,412.04 L251.49,412.81 L252.24,413.58 L252.99,414.36 L253.74,415.14 L254.49,415.93 L255.24,416.71 L255.99,417.51 L256.74,418.30 L257.49,419.10 L258.24,419.91 L258.99,420.71 L259.74,421.52 L260.48,422.33 L261.23,423.14 L261.98,423.96 L262.73,424.77 L263.48,425.59 L264.23,426.40 L264.98,427.22 L265.73,428.04 L266.48,428.85 L267.23,429.67 L267.98,430.48 L268.73,431.29 L269.48,432.10 L270.23,432.91 L270.98,433.72 L271.73,434.52 L272.48,435.32 L273.22,436.12 L273.97,436.91 L274.72,437.70 L275.47,438.48 L276.22,439.26 L276.97,440.04 L277.72,440.81 L278.47,441.57 L279.22,442.33 L279.97,443.08 L280.72,443.82 L281.47,444.56 L282.22,445.29 L282.97,446.02 L283.72,446.73 L284.47,447.44 L285.22,448.14 L285.96,448.84 L286.71,449.52 L287.46,450.20 L288.21,450.87 L288.96,451.52 L289.71,452.17 L290.46,452.81 L291.21,453.45 L291.96,454.07 L292.71,454.68 L293.46,455.28 L294.21,455.87 L294.96,456.46 L295.71,457.03 L296.46,457.59 L297.21,458.15 L297.96,458.69 L298.71,459.22 L299.45,459.75 L300.20,460.26 L300.95,460.76 L301.70,461.26 L302.45,461.74 L303.20,462.21 L303.95,462.68 L304.70,463.13 L305.45,463.57 L306.20,464.01 L306.95,464.43 L307.70,464.84 L308.45,465.25 L309.20,465.64 L309.95,466.03 L310.70,466.41 L311.45,466.77 L312.19,467.13 L312.94,467.48 L313.69,467.82 L314.44,468.15 L315.19,468.47 L315.94,468.79 L316.69,469.09 L317.44,469.39 L318.19,469.68 L318.94,469.96 L319.69,470.24 L320.44,470.50 L321.19,470.76 L321.94,471.01 L322.69,471.25 L323.44,471.49 L324.19,471.72 L324.93,471.94 L325.68,472.16 L326.43,472.37 L327.18,472.57 L327.93,472.77 L328.68,472.96 L329.43,473.15 L330.18,473.33 L330.93,473.50 L331.68,473.67 L332.43,473.83 L333.18,473.99 L333.93,474.14 L334.68,474.29 L335.43,474.43 L336.18,474.57 L336.93,474.70 L337.67,474.83 L338.42,474.96 L339.17,475.08 L339.92,475.19 L340.67,475.31 L341.42,475.41 L342.17,475.52 L342.92,475.62 L343.67,475.72 L344.42,475.81 L345.17,475.90 L345.92,475.99 L346.67,476.08 L347.42,476.16 L348.17,476.24 L348.92,476.31 L349.67,476.39 L350.42,476.46 L351.16,476.53 L351.91,476.59 L352.66,476.66 L353.41,476.72 L354.16,476.77 L354.91,476.83 L355.66,476.89 L356.41,476.94 L357.16,476.99 L357.91,477.04 L358.66,477.08 L359.41,477.13 L360.16,477.17 L360.91,477.22 L361.66,477.26 L362.41,477.29 L363.16,477.33 L363.90,477.37 L364.65,477.40 L365.40,477.44 L366.15,477.47 L366.90,477.50 L367.65,477.53 L368.40,477.56 L369.15,477.58 L369.90,477.61" fill="none" stroke="#000" stroke-width="1.7" stroke-linejoin="round"/>
<path d="M46.40,366.96 L47.27,366.99 L48.14,367.02 L49.01,367.04 L49.87,367.07 L50.74,367.10 L51.61,367.13 L52.48,367.16 L53.35,367.20 L54.22,367.23 L55.09,367.27 L55.95,367.30 L56.82,367.34 L57.69,367.38 L58.56,367.42 L59.43,367.46 L60.30,367.51 L61.17,367.55 L62.03,367.60 L62.90,367.65 L63.77,367.70 L64.64,367.75 L65.51,367.80 L66.38,367.86 L67.25,367.92 L68.12,367.98 L68.98,368.04 L69.85,368.11 L70.72,368.17 L71.59,368.24 L72.46,368.32 L73.33,368.39 L74.20,368.47 L75.06,368.55 L75.93,368.63 L76.80,368.72 L77.67,368.81 L78.54,368.90 L79.41,368.99 L80.28,369.09 L81.14,369.19 L82.01,369.30 L82.88,369.41 L83.75,369.52 L84.62,369.64 L85.49,369.76 L86.36,369.89 L87.22,370.02 L88.09,370.16 L88.96,370.30 L89.83,370.44 L90.70,370.59 L91.57,370.75 L92.44,370.91 L93.30,371.08 L94.17,371.25 L95.04,371.43 L95.91,371.61 L96.78,371.81 L97.65,372.00 L98.52,372.21 L99.39,372.42 L100.25,372.64 L101.12,372.87 L101.99,373.10 L102.86,373.34 L103.73,373.60 L104.60,373.86 L105.47,374.12 L106.33,374.40 L107.20,374.69 L108.07,374.98 L108.94,375.29 L109.81,375.61 L110.68,375.94 L111.55,376.27 L112.41,376.62 L113.28,376.98 L114.15,377.36 L115.02,377.74 L115.89,378.14 L116.76,378.55 L117.63,378.97 L118.49,379.41 L119.36,379.86 L120.23,380.33 L121.10,380.81 L121.97,381.30 L122.84,381.82 L123.71,382.34 L124.57,382.88 L125.44,383.44 L126.31,384.02 L127.18,384.62 L128.05,385.23 L128.92,385.86 L129.79,386.51 L130.66,387.17 L131.52,387.86 L132.39,388.57 L133.26,389.30 L134.13,390.05 L135.00,390.81 L135.87,391.60 L136.74,392.42 L137.60,393.25 L138.47,394.11 L139.34,394.99 L140.21,395.89 L141.08,396.81 L141.95,397.76 L142.82,398.74 L143.68,399.73 L144.55,400.76 L145.42,401.80 L146.29,402.87 L147.16,403.97 L148.03,405.09 L148.90,406.24 L149.76,407.41 L150.63,408.61 L151.50,409.83 L152.37,411.08 L153.24,412.36 L154.11,413.65 L154.98,414.98 L155.84,416.33 L156.71,417.70 L157.58,419.10 L158.45,420.53 L159.32,421.97 L160.19,423.45 L161.06,424.94 L161.93,426.46 L162.79,428.00 L163.66,429.56 L164.53,431.14 L165.40,432.75 L166.27,434.37 L167.14,436.01 L168.01,437.68 L168.87,439.36 L169.74,441.05 L170.61,442.77 L171.48,444.49 L172.35,446.24 L173.22,447.99 L174.09,449.76 L174.95,451.54 L175.82,453.33 L176.69,455.13 L177.56,456.94 L178.43,458.75 L179.30,460.57 L180.17,462.39 L181.03,464.22 L181.90,466.05 L182.77,467.88 L183.64,469.71 L184.51,471.54 L185.38,473.36 L186.25,475.19 L187.11,477.00 L187.98,478.82 L188.85,480.62 L189.72,482.41 L190.59,484.20 L191.46,485.98 L192.33,487.74 L193.19,489.49 L194.06,491.23 L194.93,492.95 L195.80,494.66 L196.67,496.35 L197.54,498.03 L198.41,499.68 L199.28,501.32 L200.14,502.94 L201.01,504.53 L201.88,506.11 L202.75,507.66 L203.62,509.20 L204.49,510.71 L205.36,512.19 L206.22,513.66 L207.09,515.10 L207.96,516.51 L208.83,517.90 L209.70,519.27 L210.57,520.61 L211.44,521.93 L212.30,523.22 L213.17,524.48 L214.04,525.72 L214.91,526.94 L215.78,528.13 L216.65,529.29 L217.52,530.43 L218.38,531.54 L219.25,532.63 L220.12,533.69 L220.99,534.73 L221.86,535.75 L222.73,536.74 L223.60,537.70 L224.46,538.64 L225.33,539.56 L226.20,540.46 L227.07,541.33 L227.94,542.18 L228.81,543.00 L229.68,543.81 L230.55,544.59 L231.41,545.35 L232.28,546.09 L233.15,546.81 L234.02,547.52 L234.89,548.20 L235.76,548.86 L236.63,549.50 L237.49,550.12 L238.36,550.73 L239.23,551.32 L240.10,551.89 L240.97,552.44 L241.84,552.98 L242.71,553.50 L243.57,554.01 L244.44,554.50 L245.31,554.97 L246.18,555.44 L247.05,555.88 L247.92,556.31 L248.79,556.73 L249.65,557.14 L250.52,557.51 L251.39,557.84 L252.26,558.17 L253.13,558.47 L254.00,558.77 L254.87,559.05 L255.73,559.31 L256.60,559.57 L257.47,559.81 L258.34,560.05 L259.21,560.27 L260.08,560.48 L260.95,560.67 L261.82,560.85 L262.68,561.02 L263.55,561.18 L264.42,561.33 L265.29,561.49 L266.16,561.64 L267.03,561.79 L267.90,561.93 L268.76,562.08 L269.63,562.22" fill="none" stroke="#000" stroke-width="1.7" stroke-linejoin="round"/>
<path d="M195.28,376.30l4.70,4.70l-4.70,4.70l-4.70,-4.70z" fill="#000" stroke="#fff" stroke-width="2.1" paint-order="stroke" stroke-linejoin="miter"/>
<path d="M226.15,390.10l4.70,4.70l-4.70,4.70l-4.70,-4.70z" fill="#000" stroke="#fff" stroke-width="2.1" paint-order="stroke" stroke-linejoin="miter"/>
<path d="M259.98,438.60l4.70,4.70l-4.70,4.70l-4.70,-4.70z" fill="#000" stroke="#fff" stroke-width="2.1" paint-order="stroke" stroke-linejoin="miter"/>
<path d="M290.85,510.10l4.70,4.70l-4.70,4.70l-4.70,-4.70z" fill="#000" stroke="#fff" stroke-width="2.1" paint-order="stroke" stroke-linejoin="miter"/>
<path d="M324.68,533.30l4.70,4.70l-4.70,4.70l-4.70,-4.70z" fill="#000" stroke="#fff" stroke-width="2.1" paint-order="stroke" stroke-linejoin="miter"/>
<path d="M355.55,533.30l4.70,4.70l-4.70,4.70l-4.70,-4.70z" fill="#000" stroke="#fff" stroke-width="2.1" paint-order="stroke" stroke-linejoin="miter"/>
<path d="M389.38,535.20l4.70,4.70l-4.70,4.70l-4.70,-4.70z" fill="#000" stroke="#fff" stroke-width="2.1" paint-order="stroke" stroke-linejoin="miter"/>
<path d="M420.25,533.50l4.70,4.70l-4.70,4.70l-4.70,-4.70z" fill="#000" stroke="#fff" stroke-width="2.1" paint-order="stroke" stroke-linejoin="miter"/>
<circle cx="240.50" cy="371.30" r="4.20" fill="#000" stroke="#fff" stroke-width="2.1" paint-order="stroke" stroke-linejoin="miter"/>
<circle cx="271.37" cy="377.60" r="4.20" fill="#000" stroke="#fff" stroke-width="2.1" paint-order="stroke" stroke-linejoin="miter"/>
<circle cx="305.20" cy="384.80" r="4.20" fill="#000" stroke="#fff" stroke-width="2.1" paint-order="stroke" stroke-linejoin="miter"/>
<circle cx="336.07" cy="406.80" r="4.20" fill="#000" stroke="#fff" stroke-width="2.1" paint-order="stroke" stroke-linejoin="miter"/>
<circle cx="369.90" cy="437.20" r="4.20" fill="#000" stroke="#fff" stroke-width="2.1" paint-order="stroke" stroke-linejoin="miter"/>
<circle cx="381.29" cy="454.80" r="4.20" fill="#000" stroke="#fff" stroke-width="2.1" paint-order="stroke" stroke-linejoin="miter"/>
<circle cx="400.77" cy="493.70" r="4.20" fill="#000" stroke="#fff" stroke-width="2.1" paint-order="stroke" stroke-linejoin="miter"/>
<circle cx="445.99" cy="555.00" r="4.20" fill="#000" stroke="#fff" stroke-width="2.1" paint-order="stroke" stroke-linejoin="miter"/>
<path d="M195.28,378.80l4.60,9.20h-9.20z" fill="#000" stroke="#fff" stroke-width="2.1" paint-order="stroke" stroke-linejoin="miter"/>
<path d="M226.15,387.40l4.60,9.20h-9.20z" fill="#000" stroke="#fff" stroke-width="2.1" paint-order="stroke" stroke-linejoin="miter"/>
<path d="M240.50,396.40l4.60,9.20h-9.20z" fill="#000" stroke="#fff" stroke-width="2.1" paint-order="stroke" stroke-linejoin="miter"/>
<path d="M259.98,413.90l4.60,9.20h-9.20z" fill="#000" stroke="#fff" stroke-width="2.1" paint-order="stroke" stroke-linejoin="miter"/>
<path d="M271.37,430.20l4.60,9.20h-9.20z" fill="#000" stroke="#fff" stroke-width="2.1" paint-order="stroke" stroke-linejoin="miter"/>
<path d="M290.85,449.20l4.60,9.20h-9.20z" fill="#000" stroke="#fff" stroke-width="2.1" paint-order="stroke" stroke-linejoin="miter"/>
<path d="M305.20,469.70l4.60,9.20h-9.20z" fill="#000" stroke="#fff" stroke-width="2.1" paint-order="stroke" stroke-linejoin="miter"/>
<path d="M324.68,464.20l4.60,9.20h-9.20z" fill="#000" stroke="#fff" stroke-width="2.1" paint-order="stroke" stroke-linejoin="miter"/>
<path d="M336.07,470.20l4.60,9.20h-9.20z" fill="#000" stroke="#fff" stroke-width="2.1" paint-order="stroke" stroke-linejoin="miter"/>
<path d="M355.55,468.90l4.60,9.20h-9.20z" fill="#000" stroke="#fff" stroke-width="2.1" paint-order="stroke" stroke-linejoin="miter"/>
<rect x="43.30" y="364.30" width="6.2" height="6.2" fill="#fff" stroke="#3c3c3c" stroke-width="1"/>
<rect x="62.78" y="368.10" width="6.2" height="6.2" fill="#fff" stroke="#3c3c3c" stroke-width="1"/>
<rect x="93.65" y="374.80" width="6.2" height="6.2" fill="#fff" stroke="#3c3c3c" stroke-width="1"/>
<rect x="108.00" y="381.50" width="6.2" height="6.2" fill="#fff" stroke="#3c3c3c" stroke-width="1"/>
<rect x="138.87" y="394.50" width="6.2" height="6.2" fill="#fff" stroke="#3c3c3c" stroke-width="1"/>
<rect x="172.70" y="446.30" width="6.2" height="6.2" fill="#fff" stroke="#3c3c3c" stroke-width="1"/>
<rect x="203.57" y="512.30" width="6.2" height="6.2" fill="#fff" stroke="#3c3c3c" stroke-width="1"/>
<rect x="237.40" y="555.40" width="6.2" height="6.2" fill="#fff" stroke="#3c3c3c" stroke-width="1"/>
<rect x="268.27" y="558.60" width="6.2" height="6.2" fill="#fff" stroke="#3c3c3c" stroke-width="1"/>
<rect x="436.2" y="332.3" width="57.3" height="65.9" fill="#fff" stroke="#444" stroke-width="1.1"/>
<path d="M451.7,338.0l3.2,3.2l-3.2,3.2l-3.2,-3.2z" fill="#000"/>
<text x="458.7" y="345.5" font-size="12.2">THC</text>
<circle cx="451.7" cy="357.5" r="3.7" fill="#000"/>
<text x="458.7" y="361.8" font-size="12.2">AEA</text>
<path d="M451.7,371.3l3.2,5.800000000000001h-6.4z" fill="#000"/>
<text x="458.7" y="377.8" font-size="12.2">WIN</text>
<rect x="448.5" y="386.1" width="6.4" height="6.4" fill="#fff" stroke="#3c3c3c" stroke-width="1"/>
<text x="458.7" y="393.7" font-size="12.2">IPR</text>
</g>
</svg></body></html>
